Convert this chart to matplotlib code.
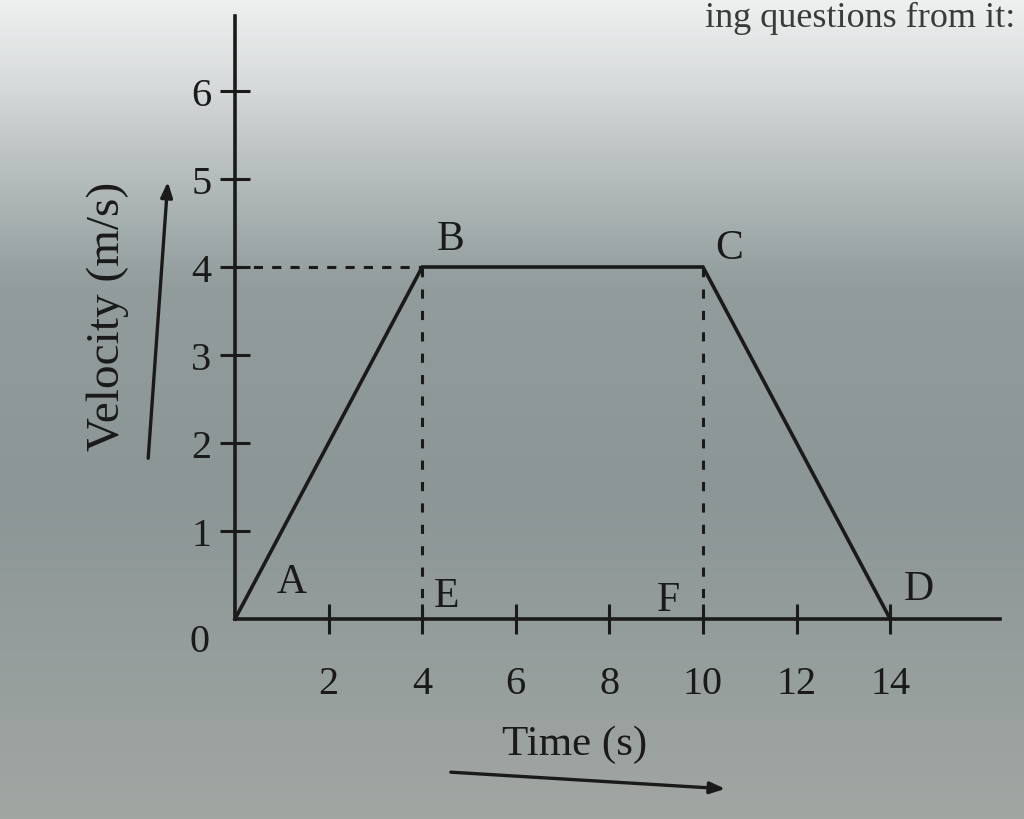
import numpy as np
import matplotlib
matplotlib.use("Agg")
import matplotlib.pyplot as plt
from matplotlib.colors import LinearSegmentedColormap

# Data: velocity-time graph
time_s = [0, 4, 10, 14]
velocity = [0, 4, 4, 0]
point_labels = ["A", "B", "C", "D"]
foot_labels = ["E", "F"]
x_ticks = [2, 4, 6, 8, 10, 12, 14]
y_ticks = [1, 2, 3, 4, 5, 6]

plt.rcParams['font.family'] = ['Liberation Serif', 'DejaVu Serif']

fig = plt.figure(figsize=(10.24, 8.2), dpi=100)

# photographic grey background
bg = fig.add_axes([0, 0, 1, 1])
bg.set_axis_off()
cmap = LinearSegmentedColormap.from_list(
    "paper",
    [(0.0, "#eef0f0"), (0.08, "#dde0e0"), (0.22, "#b4bbbb"),
     (0.35, "#929c9c"), (0.6, "#8c9696"), (0.85, "#98a09e"), (1.0, "#a2a6a3")])
grad = np.linspace(0, 1, 256).reshape(-1, 1)
bg.imshow(grad, aspect="auto", cmap=cmap, extent=[0, 1, 0, 1], origin="upper")
bg.set_xlim(0, 1)
bg.set_ylim(0, 1)

ax = fig.add_axes([0, 0, 1, 1])
ax.patch.set_alpha(0)
px_x = 46.8
px_y = 88.0
ox, oy = 235, 620
ax.set_xlim(-ox / px_x, (1024 - ox) / px_x)
ax.set_ylim(-(820 - oy) / px_y, oy / px_y)

for s in ["top", "right"]:
    ax.spines[s].set_visible(False)
ax.spines["left"].set_position(("data", 0))
ax.spines["bottom"].set_position(("data", 0))
ax.spines["left"].set_bounds(0, 6.85)
ax.spines["bottom"].set_bounds(0, 16.35)
for s in ["left", "bottom"]:
    ax.spines[s].set_linewidth(2.6)
    ax.spines[s].set_color("#1a1a1a")

ax.set_xticks(x_ticks)
ax.set_yticks(y_ticks)
ax.tick_params(axis="both", direction="inout", length=22, width=2.2,
               color="#1a1a1a", labelsize=29, labelcolor="#1a1a1a")
ax.tick_params(axis="x", pad=22)
ax.tick_params(axis="y", pad=6)

ax.text(-0.55, -0.05, "0", fontsize=29, ha="right", va="top", color="#1a1a1a")

# graph
ax.plot(time_s, velocity, color="#1a1a1a", lw=2.6, solid_joinstyle="miter", zorder=3)
# dashed guide lines
ax.plot([0, time_s[1]], [velocity[1], velocity[1]], ls=(0, (3, 3)), color="#1a1a1a", lw=2.2)
ax.plot([time_s[1], time_s[1]], [0, velocity[1]], ls=(0, (3, 4)), color="#1a1a1a", lw=2.2)
ax.plot([time_s[2], time_s[2]], [0, velocity[2]], ls=(0, (3, 4)), color="#1a1a1a", lw=2.2)

fs = 30
ax.text(time_s[0] + 1.2, velocity[0] + 0.2, point_labels[0], fontsize=fs, ha="center", va="bottom", color="#1a1a1a")
ax.text(time_s[1] + 0.6, velocity[1] + 0.1, point_labels[1], fontsize=fs, ha="center", va="bottom", color="#1a1a1a")
ax.text(time_s[2] + 0.55, velocity[2] + 0.0, point_labels[2], fontsize=fs, ha="center", va="bottom", color="#1a1a1a")
ax.text(time_s[3] + 0.3, velocity[3] + 0.12, point_labels[3], fontsize=fs, ha="left", va="bottom", color="#1a1a1a")
ax.text(time_s[1] + 0.25, 0.05, foot_labels[0], fontsize=fs, ha="left", va="bottom", color="#1a1a1a")
ax.text(time_s[2] - 0.5, 0.0, foot_labels[1], fontsize=fs, ha="right", va="bottom", color="#1a1a1a")

# axis titles with arrows
fig.text(108 / 1024, 1 - 316 / 820, "Velocity (m/s)", rotation=90, fontsize=34,
         ha="center", va="center", color="#1a1a1a")
fig.text(575 / 1024, 1 - 745 / 820, "Time (s)", fontsize=31,
         ha="center", va="center", color="#1a1a1a")
bg.annotate("", xy=(168 / 1024, 1 - 180 / 820), xytext=(148 / 1024, 1 - 462 / 820),
            arrowprops=dict(arrowstyle="-|>,head_length=0.9,head_width=0.35",
                            color="#1a1a1a", lw=2.4))
bg.annotate("", xy=(728 / 1024, 1 - 790 / 820), xytext=(448 / 1024, 1 - 773 / 820),
            arrowprops=dict(arrowstyle="-|>,head_length=0.9,head_width=0.35",
                            color="#1a1a1a", lw=2.4))

# caption at top of the photo
fig.text(1015 / 1024, 1 - 2 / 820, "ing questions from it:", fontsize=26,
         ha="right", va="top", color="#3a3a3a")

fig.savefig("out.png", dpi=100)
